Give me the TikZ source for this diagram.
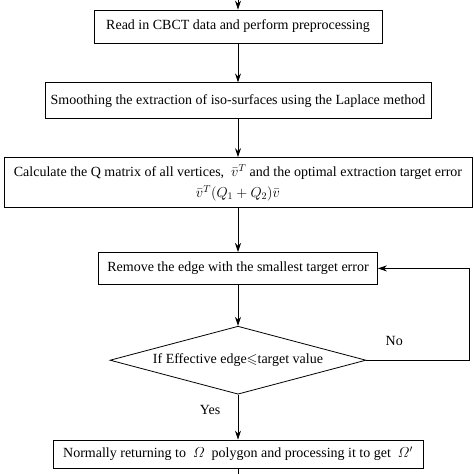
\documentclass[tikz,border=0pt]{standalone}
\usepackage{amsmath,amssymb}
\usepackage{fontspec}
\setmainfont{Liberation Serif}
\usetikzlibrary{shapes.geometric, arrows.meta, positioning}
\tikzset{
    process/.style = {
        rectangle, draw, line width=0.8pt,
        minimum height=33pt,
        inner xsep=2pt,
        align=center,
        font=\fontsize{14pt}{17pt}\selectfont
    },
    decision/.style = {
        diamond, draw, line width=0.8pt,
        aspect=3.76, inner sep=0pt,
        minimum width=256pt, minimum height=68pt,
        align=center,
        font=\fontsize{14pt}{17pt}\selectfont
    },
    arrow/.style = {
        -{Stealth[length=9pt,width=6pt]}, line width=0.8pt
    },
    lbl/.style = {
        font=\fontsize{14pt}{17pt}\selectfont
    }
}

\begin{document}
\begin{tikzpicture}
\useasboundingbox (0,0) rectangle (474pt,-474pt);

\node (read) [process, minimum width=288pt] at (238pt,-26.5pt) {Read in CBCT data and perform preprocessing};
\node (smooth) [process, minimum width=386pt, minimum height=36pt, below=39pt of read] {Smoothing the extraction of iso-surfaces using the Laplace method};
\node (calc) [process, minimum width=468pt, minimum height=50pt, inner ysep=1pt, below=38pt of smooth] {Calculate the Q matrix of all vertices, \ $\bar{v}^{T}$ and the optimal extraction target error\\[4pt] $\bar{v}^{T}(Q_{1}+Q_{2})\bar{v}$};
\node (remove) [process, minimum width=279pt, minimum height=32pt, below=44pt of calc] {Remove the edge with the smallest target error};
\node (check) [decision, below=41pt of remove] {If Effective edge$\leqslant$target value};
\node (result) [process, minimum width=370pt, minimum height=28pt, below=45pt of check] {Normally returning to \ $\varOmega$\ \ polygon and processing it to get \ $\varOmega'$};

\coordinate [above=10pt of read] (in);
\coordinate [below=12pt of result] (out);

\draw [arrow] (in) -- (read);
\draw [arrow] (read) -- (smooth);
\draw [arrow] (smooth) -- (calc);
\draw [arrow] (calc) -- (remove);
\draw [arrow] (remove) -- (check);
\draw [arrow] (check) -- node[lbl, pos=0.35, left=14pt] {Yes} (result);
\draw [arrow] (check.east) -- node[lbl, pos=0.27, above=11pt] {No} ++(103pt,0) |- (remove.east);
\draw [line width=0.8pt] (result) -- (out);

\end{tikzpicture}
\end{document}
